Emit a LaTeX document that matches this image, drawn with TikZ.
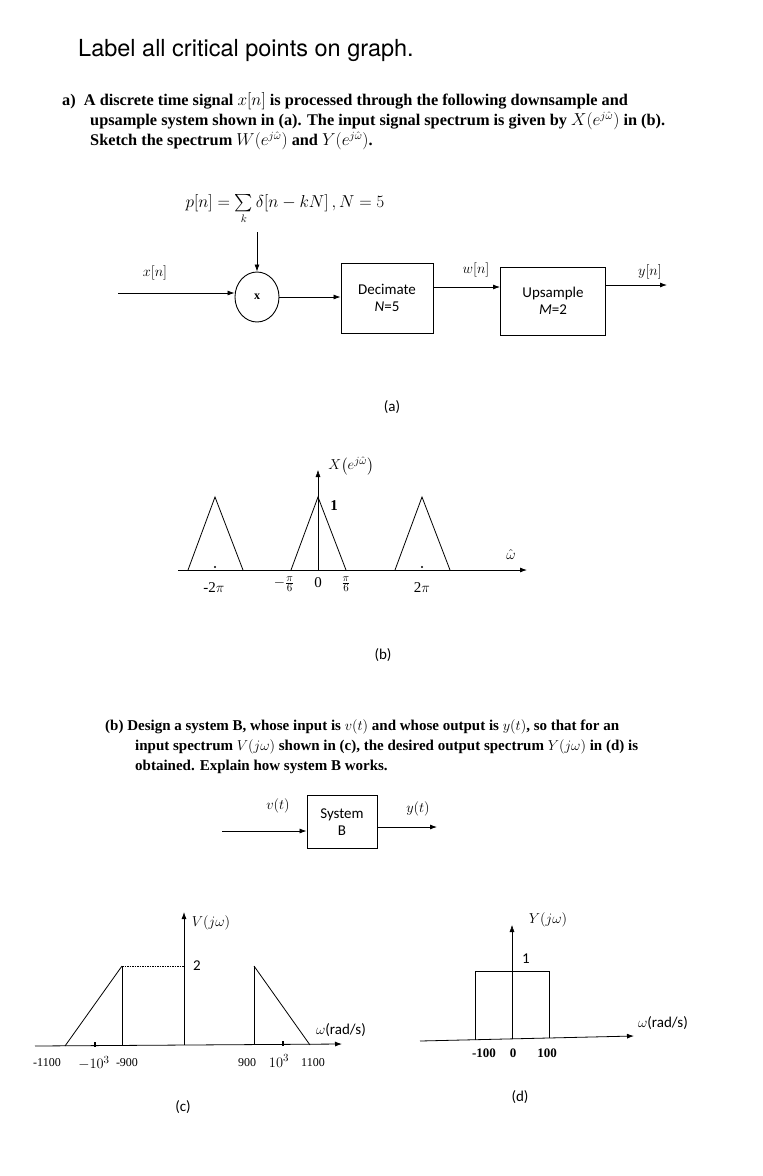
\documentclass[tikz,border=0pt]{standalone}
\usepackage{fontspec}
\usepackage{amsmath}
\setmainfont{Liberation Serif}
\newfontfamily\titlefont{TeX Gyre Heros}
\newfontfamily\lblfont{Carlito}
\usetikzlibrary{arrows.meta,shapes.geometric}
\begin{document}
\begin{tikzpicture}[x=1pt,y=-1pt,
  ln/.style={line width=0.8pt},
  ar/.style={line width=0.8pt,-{Latex[length=7pt,width=5pt]}},
  thin/.style={line width=0.5pt},
  blk/.style={draw,line width=0.9pt,rectangle,inner sep=0pt,font=\lblfont\fontsize{15}{17}\selectfont,align=center},
  txt/.style={anchor=west,inner sep=0pt,font=\bfseries\fontsize{16.3}{18}\selectfont},
  txtb/.style={anchor=west,inner sep=0pt,font=\bfseries\fontsize{15}{17}\selectfont},
  lb/.style={inner sep=0pt,font=\fontsize{15}{17}\selectfont},
  sm/.style={inner sep=0pt,font=\fontsize{12}{14}\selectfont},
  sl/.style={inner sep=0pt,font=\lblfont\fontsize{15}{17}\selectfont}]
\useasboundingbox (0,0) rectangle (763,1176);
\node[anchor=west,inner sep=0pt,font=\titlefont\fontsize{23.5}{26}\selectfont] (title) at (78,50) {Label all critical points on graph.};
\node[txt] (a1) at (62,101) {a)\enspace A discrete time signal $x[n]$ is processed through the following downsample and};
\node[txt] (a2) at (90,121) {upsample system shown in (a). The input signal spectrum is given by $X(e^{j\hat\omega})$ in (b).};
\node[txt] (a3) at (90,141) {Sketch the spectrum $W(e^{j\hat\omega})$ and $Y(e^{j\hat\omega})$.};
% block diagram (a)
\node[lb,font=\fontsize{16}{18}\selectfont] (pn) at (285,209) {$p[n]=\sum\limits_{k}\delta[n-kN]\,,N=5$};
\node[draw,ellipse,line width=0.9pt,minimum width=44pt,minimum height=50pt,font=\bfseries\large] (mul) at (257,297) {x};
\coordinate (pin) at (257,232);
\coordinate (xin) at (118,293);
\draw[ar] (pin) -- (mul.north);
\draw[ar] (xin) -- (mul.west |- xin);
\node[lb] (xl) at (155,273) {$x[n]$};
\node[blk,minimum width=92pt,minimum height=70pt] (dec) at (387,298) {Decimate\\ \textit{N}=5};
\node[blk,minimum width=105pt,minimum height=68pt] (up) at (553,301) {Upsample\\ \textit{M}=2};
\draw[ar] (mul.east) -- (dec.west |- mul.east);
\draw[ar] (dec.east |- 0,287) -- (up.west |- 0,287);
\coordinate (yout) at (667,285);
\draw[ar] (up.east |- yout) -- (yout);
\node[lb] (wl) at (476,270) {$w[n]$};
\node[lb] (yl) at (650,272) {$y[n]$};
\node[sl] (capa) at (392,407) {(a)};
% plot (b)
\coordinate (bo) at (318,570);
\coordinate (bxs) at (178,570);
\coordinate (bxe) at (527,570);
\coordinate (byt) at (318,470);
\draw[ar] (bxs) -- (bxe);
\draw[thin,-{Latex[length=7pt,width=5pt]}] (bo) -- (byt);
\foreach \c in {215,318,422}{
  \draw[ln] (\c-27,570) -- (\c,497) -- (\c+28,570);}
\fill (215,567) circle (1.2pt);
\fill (422,567) circle (1.2pt);
\node[lb] (Xl) at (351,466) {$X\big(e^{j\hat\omega}\big)$};
\node[lb] (one) at (334,506) {\textbf{1}};
\node[lb] (wh) at (511,554) {$\hat\omega$};
\node[lb] (m2p) at (214,588) {-2$\pi$};
\node[lb] (mp6) at (284,584) {$-\frac{\pi}{6}$};
\node[lb] (z0) at (318,583) {0};
\node[lb] (pp6) at (346,584) {$\frac{\pi}{6}$};
\node[lb] (p2p) at (422,588) {2$\pi$};
\node[sl] (capb) at (383,655) {(b)};
% text b
\node[txtb] (b1) at (105,727) {(b) Design a system B, whose input is $v(t)$ and whose output is $y(t)$, so that for an};
\node[txtb] (b2) at (135,747) {input spectrum $V(j\omega)$ shown in (c), the desired output spectrum $Y(j\omega)$ in (d) is};
\node[txtb] (b3) at (135,767) {obtained. Explain how system B works.};
\node[blk,minimum width=70pt,minimum height=53pt] (sys) at (342,822) {System\\ B};
\coordinate (vin) at (222,831);
\coordinate (vout) at (437,827);
\draw[ar] (vin) -- (sys.west |- vin);
\draw[ar] (sys.east |- vout) -- (vout);
\node[lb] (vl) at (278,806) {$v(t)$};
\node[lb] (ytl) at (418,809) {$y(t)$};
% plot (c)
\coordinate (cxs) at (35,1046);
\coordinate (cxe) at (342,1044);
\coordinate (cyt) at (184,912);
\draw[ar] (cxs) -- (cxe);
\draw[ln,-{Latex[length=7pt,width=5pt]}] (184,1045) -- (cyt);
\draw[ln] (65,1046) -- (122,966);
\draw[thin] (122,966) -- (122,1046);
\draw[thin,dash pattern=on 1.5pt off 1pt] (122,966) -- (184,966);
\draw[thin] (254,966) -- (254,1045);
\draw[ln] (254,966) -- (310,1045);
\draw[line width=1.5pt] (95,1042) -- (95,1047);
\draw[line width=1.5pt] (283,1041) -- (283,1046);
\node[sl] (Vl) at (211,923) {$V(j\omega)$};
\node[sl] (two) at (197,966) {2};
\node[sm] (c1) at (47,1063) {-1100};
\node[lb] (c2) at (94,1063) {$-10^3$};
\node[sm] (c3) at (127,1063) {-900};
\node[sm] (c4) at (247,1063) {900};
\node[lb] (c5) at (279,1061) {$10^3$};
\node[sm] (c6) at (313,1063) {1100};
\node[sl] (cw) at (341,1030) {$\omega$(rad/s)};
\node[sl] (capc) at (183,1107) {(c)};
% plot (d)
\coordinate (dxs) at (420,1041);
\coordinate (dxe) at (634,1036);
\draw[ar] (dxs) -- (dxe);
\draw[thin,-{Latex[length=7pt,width=5pt]}] (512,1039) -- (512,925);
\draw[thin] (475,1040) -- (475,971) -- (549,971) -- (549,1038);
\node[sl] (Yl) at (548,920) {$Y(j\omega)$};
\node[sl] (d1) at (526,959) {1};
\node[lb,font=\bfseries\fontsize{13}{15}\selectfont] (dm) at (484,1053) {-100};
\node[lb,font=\bfseries\fontsize{13}{15}\selectfont] (d0) at (513,1053) {0};
\node[lb,font=\bfseries\fontsize{13}{15}\selectfont] (dp) at (547,1053) {100};
\node[sl] (dw) at (663,1023) {$\omega$(rad/s)};
\node[sl] (capd) at (520,1097) {(d)};
\end{tikzpicture}
\end{document}
